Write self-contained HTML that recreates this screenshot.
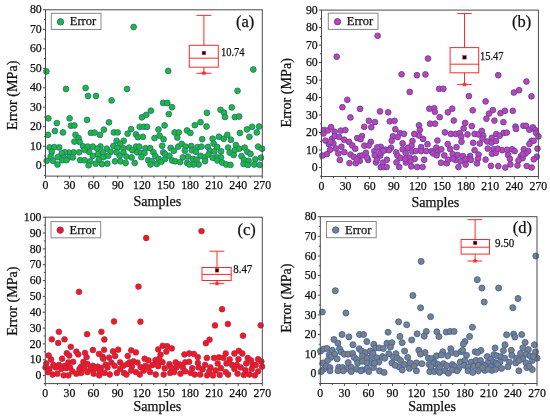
<!DOCTYPE html><html><head><meta charset="utf-8"><style>html,body{margin:0;padding:0;background:#fff;}svg{display:block;filter:blur(0.3px);}</style></head><body>
<svg width="550" height="418" viewBox="0 0 550 418">
<rect width="550" height="418" fill="#fff"/>
<style>text{stroke:#111;stroke-width:0.25px;}</style>
<g fill="#1cc01c" stroke="#2a60c0" stroke-width="0.8">
<circle cx="46.4" cy="71.4" r="2.9"/>
<circle cx="66.0" cy="89.0" r="2.9"/>
<circle cx="85.6" cy="88.0" r="2.9"/>
<circle cx="88.0" cy="96.0" r="2.9"/>
<circle cx="96.0" cy="96.0" r="2.9"/>
<circle cx="111.6" cy="100.4" r="2.9"/>
<circle cx="127.0" cy="89.0" r="2.9"/>
<circle cx="48.4" cy="118.3" r="2.9"/>
<circle cx="56.8" cy="123.1" r="2.9"/>
<circle cx="69.6" cy="118.3" r="2.9"/>
<circle cx="70.9" cy="125.7" r="2.9"/>
<circle cx="74.4" cy="125.5" r="2.9"/>
<circle cx="87.0" cy="119.9" r="2.9"/>
<circle cx="109.0" cy="122.3" r="2.9"/>
<circle cx="141.9" cy="117.3" r="2.9"/>
<circle cx="146.3" cy="114.8" r="2.9"/>
<circle cx="150.9" cy="110.7" r="2.9"/>
<circle cx="139.7" cy="126.8" r="2.9"/>
<circle cx="143.7" cy="126.8" r="2.9"/>
<circle cx="147.0" cy="126.8" r="2.9"/>
<circle cx="103.9" cy="129.6" r="2.9"/>
<circle cx="131.1" cy="129.1" r="2.9"/>
<circle cx="133.6" cy="27.0" r="2.9"/>
<circle cx="168.2" cy="70.9" r="2.9"/>
<circle cx="253.3" cy="69.5" r="2.9"/>
<circle cx="237.5" cy="90.8" r="2.9"/>
<circle cx="163.1" cy="103.0" r="2.9"/>
<circle cx="167.3" cy="103.0" r="2.9"/>
<circle cx="172.0" cy="107.2" r="2.9"/>
<circle cx="168.8" cy="114.1" r="2.9"/>
<circle cx="206.9" cy="112.8" r="2.9"/>
<circle cx="220.5" cy="109.8" r="2.9"/>
<circle cx="224.1" cy="112.7" r="2.9"/>
<circle cx="225.0" cy="117.0" r="2.9"/>
<circle cx="231.8" cy="107.4" r="2.9"/>
<circle cx="234.8" cy="117.1" r="2.9"/>
<circle cx="239.1" cy="116.5" r="2.9"/>
<circle cx="158.5" cy="129.5" r="2.9"/>
<circle cx="164.6" cy="125.4" r="2.9"/>
<circle cx="194.8" cy="125.2" r="2.9"/>
<circle cx="200.5" cy="122.2" r="2.9"/>
<circle cx="206.5" cy="126.5" r="2.9"/>
<circle cx="187.0" cy="130.5" r="2.9"/>
<circle cx="246.9" cy="129.4" r="2.9"/>
<circle cx="252.1" cy="126.8" r="2.9"/>
<circle cx="259.1" cy="126.5" r="2.9"/>
<circle cx="48.0" cy="134.8" r="2.9"/>
<circle cx="54.9" cy="131.0" r="2.9"/>
<circle cx="63.0" cy="132.4" r="2.9"/>
<circle cx="75.5" cy="134.8" r="2.9"/>
<circle cx="90.9" cy="132.9" r="2.9"/>
<circle cx="94.6" cy="132.6" r="2.9"/>
<circle cx="100.0" cy="134.9" r="2.9"/>
<circle cx="78.6" cy="138.1" r="2.9"/>
<circle cx="74.4" cy="141.6" r="2.9"/>
<circle cx="79.6" cy="141.9" r="2.9"/>
<circle cx="83.1" cy="146.3" r="2.9"/>
<circle cx="49.6" cy="147.4" r="2.9"/>
<circle cx="54.3" cy="147.1" r="2.9"/>
<circle cx="59.1" cy="147.4" r="2.9"/>
<circle cx="51.8" cy="151.8" r="2.9"/>
<circle cx="87.8" cy="146.6" r="2.9"/>
<circle cx="92.8" cy="146.6" r="2.9"/>
<circle cx="100.4" cy="146.5" r="2.9"/>
<circle cx="106.8" cy="148.7" r="2.9"/>
<circle cx="97.3" cy="148.7" r="2.9"/>
<circle cx="89.1" cy="151.8" r="2.9"/>
<circle cx="79.1" cy="152.3" r="2.9"/>
<circle cx="73.6" cy="152.3" r="2.9"/>
<circle cx="68.8" cy="152.6" r="2.9"/>
<circle cx="64.9" cy="152.3" r="2.9"/>
<circle cx="61.7" cy="153.4" r="2.9"/>
<circle cx="84.6" cy="149.8" r="2.9"/>
<circle cx="50.7" cy="156.6" r="2.9"/>
<circle cx="57.8" cy="157.1" r="2.9"/>
<circle cx="63.8" cy="157.4" r="2.9"/>
<circle cx="70.1" cy="157.1" r="2.9"/>
<circle cx="92.8" cy="155.8" r="2.9"/>
<circle cx="98.1" cy="154.2" r="2.9"/>
<circle cx="103.1" cy="152.3" r="2.9"/>
<circle cx="103.4" cy="157.2" r="2.9"/>
<circle cx="98.8" cy="159.7" r="2.9"/>
<circle cx="46.7" cy="160.8" r="2.9"/>
<circle cx="53.1" cy="160.8" r="2.9"/>
<circle cx="57.5" cy="164.5" r="2.9"/>
<circle cx="62.2" cy="160.2" r="2.9"/>
<circle cx="66.5" cy="160.2" r="2.9"/>
<circle cx="72.8" cy="157.4" r="2.9"/>
<circle cx="80.2" cy="160.2" r="2.9"/>
<circle cx="84.6" cy="160.2" r="2.9"/>
<circle cx="90.2" cy="161.3" r="2.9"/>
<circle cx="95.7" cy="163.7" r="2.9"/>
<circle cx="102.0" cy="164.1" r="2.9"/>
<circle cx="88.6" cy="165.3" r="2.9"/>
<circle cx="107.3" cy="163.7" r="2.9"/>
<circle cx="113.9" cy="132.4" r="2.9"/>
<circle cx="117.7" cy="132.4" r="2.9"/>
<circle cx="127.6" cy="133.7" r="2.9"/>
<circle cx="136.0" cy="134.5" r="2.9"/>
<circle cx="137.9" cy="137.2" r="2.9"/>
<circle cx="142.9" cy="136.8" r="2.9"/>
<circle cx="154.5" cy="138.1" r="2.9"/>
<circle cx="159.6" cy="135.7" r="2.9"/>
<circle cx="163.6" cy="139.2" r="2.9"/>
<circle cx="116.6" cy="140.8" r="2.9"/>
<circle cx="123.7" cy="140.8" r="2.9"/>
<circle cx="113.4" cy="146.0" r="2.9"/>
<circle cx="120.2" cy="143.9" r="2.9"/>
<circle cx="117.4" cy="147.9" r="2.9"/>
<circle cx="123.4" cy="148.2" r="2.9"/>
<circle cx="129.2" cy="147.6" r="2.9"/>
<circle cx="136.0" cy="146.6" r="2.9"/>
<circle cx="139.2" cy="146.6" r="2.9"/>
<circle cx="132.4" cy="150.3" r="2.9"/>
<circle cx="145.5" cy="148.2" r="2.9"/>
<circle cx="150.2" cy="148.2" r="2.9"/>
<circle cx="153.4" cy="152.3" r="2.9"/>
<circle cx="162.2" cy="145.8" r="2.9"/>
<circle cx="110.7" cy="151.8" r="2.9"/>
<circle cx="116.6" cy="152.3" r="2.9"/>
<circle cx="123.4" cy="152.3" r="2.9"/>
<circle cx="137.1" cy="152.3" r="2.9"/>
<circle cx="141.1" cy="152.9" r="2.9"/>
<circle cx="144.5" cy="152.9" r="2.9"/>
<circle cx="163.2" cy="152.3" r="2.9"/>
<circle cx="108.2" cy="155.8" r="2.9"/>
<circle cx="119.7" cy="155.8" r="2.9"/>
<circle cx="126.5" cy="156.6" r="2.9"/>
<circle cx="131.6" cy="157.4" r="2.9"/>
<circle cx="141.4" cy="157.1" r="2.9"/>
<circle cx="155.3" cy="156.1" r="2.9"/>
<circle cx="148.2" cy="160.2" r="2.9"/>
<circle cx="151.8" cy="161.3" r="2.9"/>
<circle cx="158.7" cy="158.9" r="2.9"/>
<circle cx="115.0" cy="161.3" r="2.9"/>
<circle cx="120.5" cy="161.3" r="2.9"/>
<circle cx="125.6" cy="162.9" r="2.9"/>
<circle cx="134.7" cy="162.9" r="2.9"/>
<circle cx="150.5" cy="164.5" r="2.9"/>
<circle cx="156.8" cy="164.0" r="2.9"/>
<circle cx="161.4" cy="161.7" r="2.9"/>
<circle cx="165.2" cy="158.9" r="2.9"/>
<circle cx="174.6" cy="132.4" r="2.9"/>
<circle cx="178.8" cy="132.4" r="2.9"/>
<circle cx="190.4" cy="132.9" r="2.9"/>
<circle cx="177.3" cy="137.6" r="2.9"/>
<circle cx="202.2" cy="139.2" r="2.9"/>
<circle cx="212.6" cy="138.7" r="2.9"/>
<circle cx="218.9" cy="136.7" r="2.9"/>
<circle cx="223.7" cy="138.8" r="2.9"/>
<circle cx="170.6" cy="147.9" r="2.9"/>
<circle cx="173.8" cy="150.7" r="2.9"/>
<circle cx="178.2" cy="146.6" r="2.9"/>
<circle cx="181.7" cy="143.9" r="2.9"/>
<circle cx="185.6" cy="146.6" r="2.9"/>
<circle cx="191.2" cy="146.0" r="2.9"/>
<circle cx="184.8" cy="150.7" r="2.9"/>
<circle cx="191.9" cy="150.3" r="2.9"/>
<circle cx="197.5" cy="147.1" r="2.9"/>
<circle cx="201.4" cy="146.6" r="2.9"/>
<circle cx="195.9" cy="151.8" r="2.9"/>
<circle cx="207.9" cy="146.9" r="2.9"/>
<circle cx="213.6" cy="143.6" r="2.9"/>
<circle cx="217.1" cy="146.9" r="2.9"/>
<circle cx="210.0" cy="151.1" r="2.9"/>
<circle cx="214.4" cy="151.4" r="2.9"/>
<circle cx="221.1" cy="151.4" r="2.9"/>
<circle cx="165.1" cy="154.2" r="2.9"/>
<circle cx="169.4" cy="155.8" r="2.9"/>
<circle cx="172.2" cy="160.5" r="2.9"/>
<circle cx="175.4" cy="161.3" r="2.9"/>
<circle cx="180.1" cy="162.1" r="2.9"/>
<circle cx="182.9" cy="157.4" r="2.9"/>
<circle cx="188.0" cy="156.6" r="2.9"/>
<circle cx="187.2" cy="162.9" r="2.9"/>
<circle cx="193.1" cy="158.9" r="2.9"/>
<circle cx="196.7" cy="159.7" r="2.9"/>
<circle cx="200.6" cy="155.8" r="2.9"/>
<circle cx="205.1" cy="157.4" r="2.9"/>
<circle cx="205.1" cy="161.1" r="2.9"/>
<circle cx="198.7" cy="164.5" r="2.9"/>
<circle cx="193.5" cy="164.5" r="2.9"/>
<circle cx="189.3" cy="164.5" r="2.9"/>
<circle cx="208.5" cy="154.5" r="2.9"/>
<circle cx="212.9" cy="157.8" r="2.9"/>
<circle cx="217.2" cy="157.4" r="2.9"/>
<circle cx="220.9" cy="157.4" r="2.9"/>
<circle cx="217.4" cy="160.4" r="2.9"/>
<circle cx="222.1" cy="162.5" r="2.9"/>
<circle cx="239.9" cy="132.9" r="2.9"/>
<circle cx="256.8" cy="132.4" r="2.9"/>
<circle cx="249.4" cy="136.8" r="2.9"/>
<circle cx="227.3" cy="134.9" r="2.9"/>
<circle cx="230.9" cy="139.7" r="2.9"/>
<circle cx="228.1" cy="147.6" r="2.9"/>
<circle cx="236.0" cy="145.1" r="2.9"/>
<circle cx="234.7" cy="150.3" r="2.9"/>
<circle cx="229.7" cy="152.6" r="2.9"/>
<circle cx="233.6" cy="155.0" r="2.9"/>
<circle cx="239.2" cy="148.7" r="2.9"/>
<circle cx="244.7" cy="147.6" r="2.9"/>
<circle cx="247.4" cy="151.8" r="2.9"/>
<circle cx="250.5" cy="153.9" r="2.9"/>
<circle cx="258.1" cy="146.6" r="2.9"/>
<circle cx="262.1" cy="148.7" r="2.9"/>
<circle cx="226.2" cy="164.5" r="2.9"/>
<circle cx="230.5" cy="164.9" r="2.9"/>
<circle cx="241.5" cy="156.1" r="2.9"/>
<circle cx="243.9" cy="159.7" r="2.9"/>
<circle cx="248.6" cy="160.8" r="2.9"/>
<circle cx="255.3" cy="159.3" r="2.9"/>
<circle cx="260.9" cy="157.7" r="2.9"/>
<circle cx="243.6" cy="164.0" r="2.9"/>
<circle cx="247.8" cy="164.9" r="2.9"/>
<circle cx="254.2" cy="164.5" r="2.9"/>
<circle cx="259.7" cy="164.9" r="2.9"/>
</g>
<rect x="45.5" y="9.8" width="216.8" height="166.3" fill="none" stroke="#4a4a4a" stroke-width="1"/>
<path d="M45.5 176.1v2.5M57.5 176.1v1.5M69.6 176.1v2.5M81.6 176.1v1.5M93.7 176.1v2.5M105.7 176.1v1.5M117.8 176.1v2.5M129.8 176.1v1.5M141.9 176.1v2.5M153.9 176.1v1.5M165.9 176.1v2.5M178.0 176.1v1.5M190.0 176.1v2.5M202.1 176.1v1.5M214.1 176.1v2.5M226.2 176.1v1.5M238.2 176.1v2.5M250.3 176.1v1.5M262.3 176.1v2.5M45.5 175.4h-1.5M45.5 165.7h-2.5M45.5 156.0h-1.5M45.5 146.2h-2.5M45.5 136.5h-1.5M45.5 126.7h-2.5M45.5 117.0h-1.5M45.5 107.2h-2.5M45.5 97.5h-1.5M45.5 87.8h-2.5M45.5 78.0h-1.5M45.5 68.3h-2.5M45.5 58.5h-1.5M45.5 48.8h-2.5M45.5 39.0h-1.5M45.5 29.3h-2.5M45.5 19.5h-1.5M45.5 9.8h-2.5" stroke="#4a4a4a" stroke-width="1" fill="none"/>
<g font-family="Liberation Serif" font-size="11.8" fill="#111" text-anchor="middle">
<text x="45.5" y="189.2">0</text>
<text x="69.6" y="189.2">30</text>
<text x="93.7" y="189.2">60</text>
<text x="117.8" y="189.2">90</text>
<text x="141.9" y="189.2">120</text>
<text x="165.9" y="189.2">150</text>
<text x="190.0" y="189.2">180</text>
<text x="214.1" y="189.2">210</text>
<text x="238.2" y="189.2">240</text>
<text x="262.3" y="189.2">270</text>
</g><g font-family="Liberation Serif" font-size="11.8" fill="#111" text-anchor="end">
<text x="41.7" y="169.3">0</text>
<text x="41.7" y="149.8">10</text>
<text x="41.7" y="130.3">20</text>
<text x="41.7" y="110.8">30</text>
<text x="41.7" y="91.3">40</text>
<text x="41.7" y="71.9">50</text>
<text x="41.7" y="52.4">60</text>
<text x="41.7" y="32.9">70</text>
<text x="41.7" y="13.4">80</text>
</g>
<text x="157.4" y="206.4" font-family="Liberation Serif" font-size="14.1" fill="#111" text-anchor="middle">Samples</text>
<text transform="translate(17.4 95.3) rotate(-90)" x="0" y="0" font-family="Liberation Serif" font-size="14.1" fill="#111" text-anchor="middle">Error (MPa)</text>
<rect x="51.3" y="13.3" width="49.7" height="16.2" fill="#fff" stroke="#888" stroke-width="1"/>
<circle cx="60.5" cy="21.8" r="3.2" fill="#1cc01c" stroke="#2a60c0" stroke-width="0.9"/>
<text x="69.8" y="25.3" font-family="Liberation Serif" font-size="12.5" fill="#111">Error</text>
<g stroke="#ff2a2a" stroke-width="1" fill="none">
<rect x="189.3" y="45.3" width="29.0" height="21.9"/>
<path d="M189.3 58.2H218.3M203.9 15.4V45.3M203.9 67.2V73.3M196.4 15.4H211.2M196.4 73.3H211.2"/>
<polygon points="203.90,70.30 204.72,71.97 206.56,72.23 205.23,73.53 205.55,75.37 203.90,74.50 202.25,75.37 202.57,73.53 201.24,72.23 203.08,71.97" fill="#ff2a2a" stroke="none"/>
</g>
<rect x="202.1" y="51.2" width="3.6" height="3.6" fill="#000" stroke="#ff2a2a" stroke-width="0.5"/>
<text x="221.0" y="55.7" font-family="Liberation Serif" font-size="12" fill="#111" textLength="23.6" lengthAdjust="spacingAndGlyphs">10.74</text>
<text x="236.0" y="26.9" font-family="Liberation Serif" font-size="16.5" fill="#111">(a)</text>
<g fill="#cc40a0" stroke="#4a48c8" stroke-width="0.9">
<circle cx="377.6" cy="35.8" r="2.85"/>
<circle cx="336.7" cy="56.7" r="2.85"/>
<circle cx="428.0" cy="58.5" r="2.85"/>
<circle cx="401.6" cy="74.3" r="2.85"/>
<circle cx="416.9" cy="75.2" r="2.85"/>
<circle cx="425.4" cy="74.4" r="2.85"/>
<circle cx="409.7" cy="91.9" r="2.85"/>
<circle cx="347.3" cy="99.8" r="2.85"/>
<circle cx="342.4" cy="107.2" r="2.85"/>
<circle cx="360.1" cy="108.8" r="2.85"/>
<circle cx="439.2" cy="88.8" r="2.85"/>
<circle cx="443.4" cy="88.8" r="2.85"/>
<circle cx="498.2" cy="75.2" r="2.85"/>
<circle cx="526.4" cy="81.5" r="2.85"/>
<circle cx="513.9" cy="92.5" r="2.85"/>
<circle cx="519.1" cy="90.2" r="2.85"/>
<circle cx="531.5" cy="96.3" r="2.85"/>
<circle cx="468.9" cy="96.1" r="2.85"/>
<circle cx="485.6" cy="101.4" r="2.85"/>
<circle cx="380.0" cy="111.4" r="2.85"/>
<circle cx="350.4" cy="117.4" r="2.85"/>
<circle cx="368.9" cy="120.8" r="2.85"/>
<circle cx="375.0" cy="122.1" r="2.85"/>
<circle cx="364.2" cy="126.8" r="2.85"/>
<circle cx="371.3" cy="127.2" r="2.85"/>
<circle cx="323.9" cy="130.0" r="2.85"/>
<circle cx="327.9" cy="130.4" r="2.85"/>
<circle cx="331.0" cy="127.2" r="2.85"/>
<circle cx="334.6" cy="131.7" r="2.85"/>
<circle cx="340.8" cy="130.6" r="2.85"/>
<circle cx="345.3" cy="130.1" r="2.85"/>
<circle cx="323.5" cy="133.5" r="2.85"/>
<circle cx="325.5" cy="140.6" r="2.85"/>
<circle cx="332.0" cy="138.8" r="2.85"/>
<circle cx="334.8" cy="136.0" r="2.85"/>
<circle cx="339.1" cy="136.9" r="2.85"/>
<circle cx="344.2" cy="139.7" r="2.85"/>
<circle cx="349.1" cy="141.9" r="2.85"/>
<circle cx="352.2" cy="145.4" r="2.85"/>
<circle cx="355.2" cy="148.7" r="2.85"/>
<circle cx="357.2" cy="138.1" r="2.85"/>
<circle cx="362.0" cy="136.0" r="2.85"/>
<circle cx="360.6" cy="139.2" r="2.85"/>
<circle cx="364.4" cy="145.6" r="2.85"/>
<circle cx="370.8" cy="141.9" r="2.85"/>
<circle cx="368.8" cy="145.4" r="2.85"/>
<circle cx="329.0" cy="144.3" r="2.85"/>
<circle cx="333.4" cy="143.4" r="2.85"/>
<circle cx="335.8" cy="148.4" r="2.85"/>
<circle cx="341.4" cy="146.7" r="2.85"/>
<circle cx="330.0" cy="149.8" r="2.85"/>
<circle cx="322.3" cy="155.5" r="2.85"/>
<circle cx="327.0" cy="154.1" r="2.85"/>
<circle cx="338.3" cy="153.5" r="2.85"/>
<circle cx="344.3" cy="152.2" r="2.85"/>
<circle cx="339.8" cy="160.0" r="2.85"/>
<circle cx="350.4" cy="154.5" r="2.85"/>
<circle cx="353.7" cy="156.9" r="2.85"/>
<circle cx="359.8" cy="155.9" r="2.85"/>
<circle cx="362.6" cy="155.3" r="2.85"/>
<circle cx="365.9" cy="152.8" r="2.85"/>
<circle cx="374.4" cy="151.2" r="2.85"/>
<circle cx="374.8" cy="155.3" r="2.85"/>
<circle cx="380.7" cy="146.8" r="2.85"/>
<circle cx="380.3" cy="155.6" r="2.85"/>
<circle cx="380.7" cy="152.9" r="2.85"/>
<circle cx="349.5" cy="163.1" r="2.85"/>
<circle cx="355.8" cy="163.2" r="2.85"/>
<circle cx="359.7" cy="161.0" r="2.85"/>
<circle cx="368.2" cy="160.0" r="2.85"/>
<circle cx="376.0" cy="162.4" r="2.85"/>
<circle cx="330.4" cy="142.0" r="2.85"/>
<circle cx="356.8" cy="159.4" r="2.85"/>
<circle cx="367.0" cy="157.6" r="2.85"/>
<circle cx="376.9" cy="159.4" r="2.85"/>
<circle cx="380.8" cy="167.2" r="2.85"/>
<circle cx="388.2" cy="112.3" r="2.85"/>
<circle cx="429.3" cy="108.7" r="2.85"/>
<circle cx="434.2" cy="108.3" r="2.85"/>
<circle cx="434.8" cy="111.8" r="2.85"/>
<circle cx="439.7" cy="117.2" r="2.85"/>
<circle cx="389.8" cy="121.3" r="2.85"/>
<circle cx="394.5" cy="120.8" r="2.85"/>
<circle cx="395.3" cy="129.2" r="2.85"/>
<circle cx="419.0" cy="125.3" r="2.85"/>
<circle cx="419.8" cy="130.0" r="2.85"/>
<circle cx="430.1" cy="123.7" r="2.85"/>
<circle cx="435.0" cy="123.7" r="2.85"/>
<circle cx="400.1" cy="133.2" r="2.85"/>
<circle cx="404.0" cy="133.9" r="2.85"/>
<circle cx="392.9" cy="136.3" r="2.85"/>
<circle cx="397.7" cy="137.1" r="2.85"/>
<circle cx="391.7" cy="140.7" r="2.85"/>
<circle cx="414.3" cy="133.9" r="2.85"/>
<circle cx="419.0" cy="135.5" r="2.85"/>
<circle cx="423.1" cy="138.9" r="2.85"/>
<circle cx="412.5" cy="141.0" r="2.85"/>
<circle cx="402.6" cy="143.3" r="2.85"/>
<circle cx="411.5" cy="145.4" r="2.85"/>
<circle cx="427.5" cy="144.2" r="2.85"/>
<circle cx="437.4" cy="140.5" r="2.85"/>
<circle cx="377.2" cy="147.4" r="2.85"/>
<circle cx="385.3" cy="149.7" r="2.85"/>
<circle cx="391.0" cy="147.7" r="2.85"/>
<circle cx="383.5" cy="150.8" r="2.85"/>
<circle cx="396.2" cy="152.4" r="2.85"/>
<circle cx="402.6" cy="149.3" r="2.85"/>
<circle cx="407.7" cy="147.9" r="2.85"/>
<circle cx="412.1" cy="151.4" r="2.85"/>
<circle cx="415.9" cy="151.0" r="2.85"/>
<circle cx="421.1" cy="147.1" r="2.85"/>
<circle cx="421.1" cy="151.1" r="2.85"/>
<circle cx="426.2" cy="151.1" r="2.85"/>
<circle cx="431.4" cy="151.2" r="2.85"/>
<circle cx="436.3" cy="147.6" r="2.85"/>
<circle cx="437.7" cy="151.5" r="2.85"/>
<circle cx="397.5" cy="155.8" r="2.85"/>
<circle cx="405.7" cy="153.1" r="2.85"/>
<circle cx="400.6" cy="158.0" r="2.85"/>
<circle cx="409.5" cy="157.6" r="2.85"/>
<circle cx="414.8" cy="158.7" r="2.85"/>
<circle cx="424.2" cy="159.7" r="2.85"/>
<circle cx="433.1" cy="153.4" r="2.85"/>
<circle cx="386.9" cy="159.7" r="2.85"/>
<circle cx="382.8" cy="162.7" r="2.85"/>
<circle cx="396.5" cy="162.3" r="2.85"/>
<circle cx="405.9" cy="162.5" r="2.85"/>
<circle cx="410.6" cy="161.4" r="2.85"/>
<circle cx="389.0" cy="150.2" r="2.85"/>
<circle cx="383.6" cy="167.0" r="2.85"/>
<circle cx="386.6" cy="167.0" r="2.85"/>
<circle cx="405.2" cy="159.2" r="2.85"/>
<circle cx="399.2" cy="167.0" r="2.85"/>
<circle cx="411.2" cy="166.4" r="2.85"/>
<circle cx="417.2" cy="167.0" r="2.85"/>
<circle cx="422.6" cy="167.0" r="2.85"/>
<circle cx="441.3" cy="149.3" r="2.85"/>
<circle cx="441.0" cy="162.7" r="2.85"/>
<circle cx="447.8" cy="112.3" r="2.85"/>
<circle cx="452.2" cy="108.7" r="2.85"/>
<circle cx="472.7" cy="110.3" r="2.85"/>
<circle cx="489.0" cy="113.5" r="2.85"/>
<circle cx="492.9" cy="110.1" r="2.85"/>
<circle cx="486.4" cy="118.7" r="2.85"/>
<circle cx="494.4" cy="120.6" r="2.85"/>
<circle cx="453.8" cy="120.5" r="2.85"/>
<circle cx="465.2" cy="122.9" r="2.85"/>
<circle cx="463.6" cy="128.4" r="2.85"/>
<circle cx="471.8" cy="126.1" r="2.85"/>
<circle cx="444.9" cy="132.4" r="2.85"/>
<circle cx="450.9" cy="133.9" r="2.85"/>
<circle cx="455.7" cy="133.9" r="2.85"/>
<circle cx="459.6" cy="133.2" r="2.85"/>
<circle cx="461.2" cy="136.6" r="2.85"/>
<circle cx="467.5" cy="134.4" r="2.85"/>
<circle cx="474.6" cy="133.9" r="2.85"/>
<circle cx="478.6" cy="134.4" r="2.85"/>
<circle cx="481.7" cy="130.9" r="2.85"/>
<circle cx="483.2" cy="135.6" r="2.85"/>
<circle cx="482.5" cy="138.7" r="2.85"/>
<circle cx="487.2" cy="141.5" r="2.85"/>
<circle cx="491.9" cy="137.8" r="2.85"/>
<circle cx="496.3" cy="134.1" r="2.85"/>
<circle cx="447.7" cy="144.0" r="2.85"/>
<circle cx="461.5" cy="141.8" r="2.85"/>
<circle cx="473.1" cy="142.8" r="2.85"/>
<circle cx="479.8" cy="143.5" r="2.85"/>
<circle cx="491.5" cy="142.7" r="2.85"/>
<circle cx="496.0" cy="141.0" r="2.85"/>
<circle cx="450.1" cy="149.0" r="2.85"/>
<circle cx="456.5" cy="147.1" r="2.85"/>
<circle cx="474.6" cy="150.2" r="2.85"/>
<circle cx="487.7" cy="148.6" r="2.85"/>
<circle cx="493.6" cy="149.3" r="2.85"/>
<circle cx="444.3" cy="155.4" r="2.85"/>
<circle cx="452.7" cy="154.1" r="2.85"/>
<circle cx="457.6" cy="155.0" r="2.85"/>
<circle cx="462.8" cy="156.1" r="2.85"/>
<circle cx="470.1" cy="156.0" r="2.85"/>
<circle cx="478.6" cy="154.5" r="2.85"/>
<circle cx="492.0" cy="153.7" r="2.85"/>
<circle cx="495.9" cy="152.8" r="2.85"/>
<circle cx="436.7" cy="155.3" r="2.85"/>
<circle cx="446.8" cy="163.2" r="2.85"/>
<circle cx="455.7" cy="160.0" r="2.85"/>
<circle cx="460.7" cy="161.3" r="2.85"/>
<circle cx="468.3" cy="159.2" r="2.85"/>
<circle cx="478.0" cy="158.7" r="2.85"/>
<circle cx="485.6" cy="159.6" r="2.85"/>
<circle cx="453.0" cy="158.6" r="2.85"/>
<circle cx="448.2" cy="159.8" r="2.85"/>
<circle cx="458.4" cy="167.0" r="2.85"/>
<circle cx="465.6" cy="164.6" r="2.85"/>
<circle cx="465.6" cy="159.2" r="2.85"/>
<circle cx="471.0" cy="159.8" r="2.85"/>
<circle cx="477.0" cy="163.4" r="2.85"/>
<circle cx="490.9" cy="165.9" r="2.85"/>
<circle cx="498.3" cy="166.1" r="2.85"/>
<circle cx="500.5" cy="113.2" r="2.85"/>
<circle cx="504.9" cy="110.8" r="2.85"/>
<circle cx="512.8" cy="110.8" r="2.85"/>
<circle cx="503.4" cy="122.2" r="2.85"/>
<circle cx="515.5" cy="126.6" r="2.85"/>
<circle cx="516.0" cy="128.9" r="2.85"/>
<circle cx="523.4" cy="125.8" r="2.85"/>
<circle cx="526.1" cy="125.8" r="2.85"/>
<circle cx="529.3" cy="129.7" r="2.85"/>
<circle cx="532.9" cy="127.4" r="2.85"/>
<circle cx="535.3" cy="130.1" r="2.85"/>
<circle cx="536.1" cy="132.9" r="2.85"/>
<circle cx="538.4" cy="136.4" r="2.85"/>
<circle cx="499.7" cy="135.7" r="2.85"/>
<circle cx="503.7" cy="132.9" r="2.85"/>
<circle cx="506.8" cy="132.6" r="2.85"/>
<circle cx="531.6" cy="140.9" r="2.85"/>
<circle cx="533.7" cy="140.8" r="2.85"/>
<circle cx="529.5" cy="143.9" r="2.85"/>
<circle cx="537.5" cy="148.7" r="2.85"/>
<circle cx="502.2" cy="150.2" r="2.85"/>
<circle cx="507.0" cy="149.8" r="2.85"/>
<circle cx="512.1" cy="149.3" r="2.85"/>
<circle cx="514.6" cy="151.1" r="2.85"/>
<circle cx="523.8" cy="149.3" r="2.85"/>
<circle cx="528.2" cy="150.9" r="2.85"/>
<circle cx="508.1" cy="154.9" r="2.85"/>
<circle cx="520.8" cy="156.3" r="2.85"/>
<circle cx="525.6" cy="153.5" r="2.85"/>
<circle cx="536.8" cy="156.7" r="2.85"/>
<circle cx="509.9" cy="158.9" r="2.85"/>
<circle cx="522.6" cy="158.2" r="2.85"/>
<circle cx="497.6" cy="148.7" r="2.85"/>
<circle cx="510.4" cy="164.4" r="2.85"/>
<circle cx="505.3" cy="167.5" r="2.85"/>
<circle cx="517.5" cy="165.5" r="2.85"/>
<circle cx="518.5" cy="160.4" r="2.85"/>
<circle cx="522.6" cy="154.3" r="2.85"/>
<circle cx="533.8" cy="159.3" r="2.85"/>
<circle cx="526.7" cy="166.0" r="2.85"/>
<circle cx="531.7" cy="167.5" r="2.85"/>
</g>
<rect x="321.5" y="10.1" width="216.9" height="166.4" fill="none" stroke="#4a4a4a" stroke-width="1"/>
<path d="M321.5 176.5v2.5M333.6 176.5v1.5M345.6 176.5v2.5M357.6 176.5v1.5M369.7 176.5v2.5M381.8 176.5v1.5M393.8 176.5v2.5M405.9 176.5v1.5M417.9 176.5v2.5M429.9 176.5v1.5M442.0 176.5v2.5M454.0 176.5v1.5M466.1 176.5v2.5M478.1 176.5v1.5M490.2 176.5v2.5M502.2 176.5v1.5M514.3 176.5v2.5M526.3 176.5v1.5M538.4 176.5v2.5M321.5 176.2h-1.5M321.5 167.5h-2.5M321.5 158.8h-1.5M321.5 150.0h-2.5M321.5 141.3h-1.5M321.5 132.5h-2.5M321.5 123.8h-1.5M321.5 115.0h-2.5M321.5 106.3h-1.5M321.5 97.5h-2.5M321.5 88.8h-1.5M321.5 80.1h-2.5M321.5 71.3h-1.5M321.5 62.6h-2.5M321.5 53.8h-1.5M321.5 45.1h-2.5M321.5 36.3h-1.5M321.5 27.6h-2.5M321.5 18.8h-1.5M321.5 10.1h-2.5" stroke="#4a4a4a" stroke-width="1" fill="none"/>
<g font-family="Liberation Serif" font-size="11.8" fill="#111" text-anchor="middle">
<text x="321.5" y="189.5">0</text>
<text x="345.6" y="189.5">30</text>
<text x="369.7" y="189.5">60</text>
<text x="393.8" y="189.5">90</text>
<text x="417.9" y="189.5">120</text>
<text x="442.0" y="189.5">150</text>
<text x="466.1" y="189.5">180</text>
<text x="490.2" y="189.5">210</text>
<text x="514.3" y="189.5">240</text>
<text x="538.4" y="189.5">270</text>
</g><g font-family="Liberation Serif" font-size="11.8" fill="#111" text-anchor="end">
<text x="317.7" y="171.1">0</text>
<text x="317.7" y="153.6">10</text>
<text x="317.7" y="136.1">20</text>
<text x="317.7" y="118.6">30</text>
<text x="317.7" y="101.1">40</text>
<text x="317.7" y="83.7">50</text>
<text x="317.7" y="66.2">60</text>
<text x="317.7" y="48.7">70</text>
<text x="317.7" y="31.2">80</text>
<text x="317.7" y="13.7">90</text>
</g>
<text x="435.3" y="206.6" font-family="Liberation Serif" font-size="14.1" fill="#111" text-anchor="middle">Samples</text>
<text transform="translate(291.3 92.8) rotate(-90)" x="0" y="0" font-family="Liberation Serif" font-size="14.1" fill="#111" text-anchor="middle">Error (MPa)</text>
<rect x="328.3" y="13.2" width="49.7" height="16.2" fill="#fff" stroke="#888" stroke-width="1"/>
<circle cx="337.5" cy="21.7" r="3.2" fill="#cc40a0" stroke="#4a48c8" stroke-width="0.9"/>
<text x="346.8" y="25.2" font-family="Liberation Serif" font-size="12.5" fill="#111">Error</text>
<g stroke="#ff2a2a" stroke-width="1" fill="none">
<rect x="450.1" y="47.6" width="28.6" height="25.2"/>
<path d="M450.1 64.2H478.7M464.5 13.6V47.6M464.5 72.8V84.6M457.2 13.6H471.8M457.2 84.6H471.8"/>
<polygon points="464.50,81.60 465.32,83.27 467.16,83.53 465.83,84.83 466.15,86.67 464.50,85.80 462.85,86.67 463.17,84.83 461.84,83.53 463.68,83.27" fill="#ff2a2a" stroke="none"/>
</g>
<rect x="462.7" y="55.5" width="3.6" height="3.6" fill="#000" stroke="#ff2a2a" stroke-width="0.5"/>
<text x="480.0" y="59.8" font-family="Liberation Serif" font-size="12" fill="#111" textLength="23.6" lengthAdjust="spacingAndGlyphs">15.47</text>
<text x="512.0" y="27.4" font-family="Liberation Serif" font-size="16.5" fill="#111">(b)</text>
<g fill="#ff1515" stroke="#703878" stroke-width="0.6">
<circle cx="146.2" cy="238.0" r="2.9"/>
<circle cx="201.5" cy="231.1" r="2.9"/>
<circle cx="79.0" cy="291.8" r="2.9"/>
<circle cx="138.5" cy="286.6" r="2.9"/>
<circle cx="114.0" cy="321.4" r="2.9"/>
<circle cx="140.4" cy="321.7" r="2.9"/>
<circle cx="222.1" cy="309.2" r="2.9"/>
<circle cx="215.0" cy="325.4" r="2.9"/>
<circle cx="227.9" cy="324.0" r="2.9"/>
<circle cx="260.7" cy="325.3" r="2.9"/>
<circle cx="243.0" cy="335.7" r="2.9"/>
<circle cx="209.5" cy="339.7" r="2.9"/>
<circle cx="205.9" cy="343.2" r="2.9"/>
<circle cx="58.9" cy="331.8" r="2.9"/>
<circle cx="87.1" cy="334.2" r="2.9"/>
<circle cx="101.4" cy="331.8" r="2.9"/>
<circle cx="51.8" cy="339.3" r="2.9"/>
<circle cx="58.2" cy="342.9" r="2.9"/>
<circle cx="64.5" cy="339.3" r="2.9"/>
<circle cx="104.3" cy="339.5" r="2.9"/>
<circle cx="70.8" cy="346.8" r="2.9"/>
<circle cx="92.9" cy="350.0" r="2.9"/>
<circle cx="48.7" cy="355.5" r="2.9"/>
<circle cx="66.8" cy="353.2" r="2.9"/>
<circle cx="69.2" cy="355.5" r="2.9"/>
<circle cx="76.3" cy="351.6" r="2.9"/>
<circle cx="78.2" cy="354.4" r="2.9"/>
<circle cx="85.0" cy="352.8" r="2.9"/>
<circle cx="86.6" cy="357.1" r="2.9"/>
<circle cx="99.0" cy="353.9" r="2.9"/>
<circle cx="102.6" cy="356.7" r="2.9"/>
<circle cx="104.1" cy="349.8" r="2.9"/>
<circle cx="51.1" cy="359.5" r="2.9"/>
<circle cx="62.1" cy="358.7" r="2.9"/>
<circle cx="73.2" cy="361.8" r="2.9"/>
<circle cx="83.4" cy="361.8" r="2.9"/>
<circle cx="103.2" cy="358.7" r="2.9"/>
<circle cx="46.3" cy="363.4" r="2.9"/>
<circle cx="53.4" cy="365.0" r="2.9"/>
<circle cx="58.9" cy="365.0" r="2.9"/>
<circle cx="64.5" cy="365.8" r="2.9"/>
<circle cx="68.4" cy="362.3" r="2.9"/>
<circle cx="81.1" cy="366.6" r="2.9"/>
<circle cx="87.4" cy="363.9" r="2.9"/>
<circle cx="92.9" cy="365.8" r="2.9"/>
<circle cx="97.6" cy="366.6" r="2.9"/>
<circle cx="45.5" cy="367.4" r="2.9"/>
<circle cx="49.5" cy="368.9" r="2.9"/>
<circle cx="55.8" cy="367.4" r="2.9"/>
<circle cx="61.3" cy="368.9" r="2.9"/>
<circle cx="66.1" cy="368.2" r="2.9"/>
<circle cx="79.5" cy="368.9" r="2.9"/>
<circle cx="84.2" cy="368.2" r="2.9"/>
<circle cx="90.5" cy="368.9" r="2.9"/>
<circle cx="95.3" cy="368.2" r="2.9"/>
<circle cx="101.0" cy="367.8" r="2.9"/>
<circle cx="105.7" cy="364.6" r="2.9"/>
<circle cx="47.9" cy="372.1" r="2.9"/>
<circle cx="52.6" cy="374.5" r="2.9"/>
<circle cx="57.4" cy="373.7" r="2.9"/>
<circle cx="63.7" cy="375.3" r="2.9"/>
<circle cx="68.4" cy="375.3" r="2.9"/>
<circle cx="72.4" cy="371.3" r="2.9"/>
<circle cx="76.3" cy="373.7" r="2.9"/>
<circle cx="81.1" cy="372.9" r="2.9"/>
<circle cx="87.4" cy="372.1" r="2.9"/>
<circle cx="93.7" cy="373.7" r="2.9"/>
<circle cx="99.2" cy="375.3" r="2.9"/>
<circle cx="104.5" cy="372.9" r="2.9"/>
<circle cx="70.0" cy="367.4" r="2.9"/>
<circle cx="162.7" cy="345.8" r="2.9"/>
<circle cx="113.0" cy="351.3" r="2.9"/>
<circle cx="118.2" cy="349.7" r="2.9"/>
<circle cx="131.2" cy="350.3" r="2.9"/>
<circle cx="135.9" cy="352.4" r="2.9"/>
<circle cx="158.2" cy="349.4" r="2.9"/>
<circle cx="109.1" cy="357.6" r="2.9"/>
<circle cx="115.1" cy="356.0" r="2.9"/>
<circle cx="127.7" cy="356.0" r="2.9"/>
<circle cx="144.6" cy="358.7" r="2.9"/>
<circle cx="148.5" cy="360.3" r="2.9"/>
<circle cx="155.4" cy="360.1" r="2.9"/>
<circle cx="160.6" cy="354.7" r="2.9"/>
<circle cx="162.5" cy="362.2" r="2.9"/>
<circle cx="111.4" cy="362.6" r="2.9"/>
<circle cx="120.1" cy="362.3" r="2.9"/>
<circle cx="129.6" cy="362.3" r="2.9"/>
<circle cx="133.5" cy="361.4" r="2.9"/>
<circle cx="137.5" cy="362.6" r="2.9"/>
<circle cx="157.2" cy="362.3" r="2.9"/>
<circle cx="107.5" cy="367.4" r="2.9"/>
<circle cx="114.6" cy="365.8" r="2.9"/>
<circle cx="123.3" cy="365.8" r="2.9"/>
<circle cx="127.2" cy="364.2" r="2.9"/>
<circle cx="131.9" cy="366.6" r="2.9"/>
<circle cx="140.6" cy="367.1" r="2.9"/>
<circle cx="145.4" cy="365.8" r="2.9"/>
<circle cx="152.5" cy="365.0" r="2.9"/>
<circle cx="158.2" cy="366.2" r="2.9"/>
<circle cx="99.6" cy="370.5" r="2.9"/>
<circle cx="109.8" cy="374.5" r="2.9"/>
<circle cx="116.9" cy="372.9" r="2.9"/>
<circle cx="124.1" cy="372.9" r="2.9"/>
<circle cx="126.4" cy="374.5" r="2.9"/>
<circle cx="131.2" cy="370.5" r="2.9"/>
<circle cx="135.9" cy="372.1" r="2.9"/>
<circle cx="139.8" cy="374.5" r="2.9"/>
<circle cx="143.8" cy="370.5" r="2.9"/>
<circle cx="150.1" cy="372.1" r="2.9"/>
<circle cx="155.8" cy="374.5" r="2.9"/>
<circle cx="163.7" cy="374.5" r="2.9"/>
<circle cx="120.1" cy="368.9" r="2.9"/>
<circle cx="148.5" cy="367.4" r="2.9"/>
<circle cx="167.1" cy="346.1" r="2.9"/>
<circle cx="171.8" cy="348.4" r="2.9"/>
<circle cx="166.3" cy="351.6" r="2.9"/>
<circle cx="184.4" cy="354.4" r="2.9"/>
<circle cx="189.2" cy="353.5" r="2.9"/>
<circle cx="193.9" cy="353.9" r="2.9"/>
<circle cx="197.8" cy="357.1" r="2.9"/>
<circle cx="206.9" cy="357.9" r="2.9"/>
<circle cx="214.0" cy="357.9" r="2.9"/>
<circle cx="218.9" cy="357.3" r="2.9"/>
<circle cx="159.2" cy="358.7" r="2.9"/>
<circle cx="169.4" cy="364.2" r="2.9"/>
<circle cx="175.7" cy="362.3" r="2.9"/>
<circle cx="179.7" cy="364.5" r="2.9"/>
<circle cx="185.2" cy="362.3" r="2.9"/>
<circle cx="189.2" cy="361.8" r="2.9"/>
<circle cx="197.8" cy="362.9" r="2.9"/>
<circle cx="205.1" cy="364.8" r="2.9"/>
<circle cx="217.7" cy="363.4" r="2.9"/>
<circle cx="164.7" cy="368.2" r="2.9"/>
<circle cx="171.0" cy="367.4" r="2.9"/>
<circle cx="176.5" cy="367.4" r="2.9"/>
<circle cx="182.8" cy="367.4" r="2.9"/>
<circle cx="192.3" cy="368.2" r="2.9"/>
<circle cx="198.6" cy="367.4" r="2.9"/>
<circle cx="202.6" cy="369.3" r="2.9"/>
<circle cx="210.5" cy="367.4" r="2.9"/>
<circle cx="215.7" cy="370.4" r="2.9"/>
<circle cx="220.9" cy="368.2" r="2.9"/>
<circle cx="170.2" cy="372.9" r="2.9"/>
<circle cx="174.2" cy="372.1" r="2.9"/>
<circle cx="180.5" cy="373.7" r="2.9"/>
<circle cx="185.2" cy="371.3" r="2.9"/>
<circle cx="190.7" cy="372.9" r="2.9"/>
<circle cx="194.7" cy="374.5" r="2.9"/>
<circle cx="200.2" cy="374.5" r="2.9"/>
<circle cx="207.1" cy="375.3" r="2.9"/>
<circle cx="213.0" cy="375.4" r="2.9"/>
<circle cx="219.7" cy="374.9" r="2.9"/>
<circle cx="225.7" cy="353.5" r="2.9"/>
<circle cx="234.4" cy="353.5" r="2.9"/>
<circle cx="238.8" cy="350.8" r="2.9"/>
<circle cx="242.3" cy="353.5" r="2.9"/>
<circle cx="223.4" cy="357.9" r="2.9"/>
<circle cx="229.7" cy="359.5" r="2.9"/>
<circle cx="238.4" cy="359.2" r="2.9"/>
<circle cx="247.8" cy="357.9" r="2.9"/>
<circle cx="251.0" cy="360.3" r="2.9"/>
<circle cx="258.1" cy="359.2" r="2.9"/>
<circle cx="261.3" cy="361.4" r="2.9"/>
<circle cx="226.5" cy="363.4" r="2.9"/>
<circle cx="232.1" cy="365.0" r="2.9"/>
<circle cx="236.8" cy="365.0" r="2.9"/>
<circle cx="246.3" cy="363.4" r="2.9"/>
<circle cx="252.6" cy="364.5" r="2.9"/>
<circle cx="255.7" cy="365.0" r="2.9"/>
<circle cx="262.1" cy="366.6" r="2.9"/>
<circle cx="209.2" cy="371.3" r="2.9"/>
<circle cx="225.7" cy="372.1" r="2.9"/>
<circle cx="234.4" cy="368.9" r="2.9"/>
<circle cx="240.7" cy="367.4" r="2.9"/>
<circle cx="245.5" cy="370.2" r="2.9"/>
<circle cx="251.8" cy="368.9" r="2.9"/>
<circle cx="258.1" cy="371.3" r="2.9"/>
<circle cx="228.1" cy="374.5" r="2.9"/>
<circle cx="237.6" cy="373.7" r="2.9"/>
<circle cx="243.9" cy="374.9" r="2.9"/>
<circle cx="249.4" cy="374.5" r="2.9"/>
<circle cx="254.9" cy="375.3" r="2.9"/>
</g>
<rect x="45.3" y="217.2" width="217.0" height="166.4" fill="none" stroke="#4a4a4a" stroke-width="1"/>
<path d="M45.3 383.6v2.5M57.4 383.6v1.5M69.4 383.6v2.5M81.5 383.6v1.5M93.5 383.6v2.5M105.6 383.6v1.5M117.6 383.6v2.5M129.7 383.6v1.5M141.7 383.6v2.5M153.8 383.6v1.5M165.9 383.6v2.5M177.9 383.6v1.5M190.0 383.6v2.5M202.0 383.6v1.5M214.1 383.6v2.5M226.1 383.6v1.5M238.2 383.6v2.5M250.2 383.6v1.5M262.3 383.6v2.5M45.3 383.5h-1.5M45.3 375.6h-2.5M45.3 367.7h-1.5M45.3 359.8h-2.5M45.3 351.8h-1.5M45.3 343.9h-2.5M45.3 336.0h-1.5M45.3 328.1h-2.5M45.3 320.2h-1.5M45.3 312.2h-2.5M45.3 304.3h-1.5M45.3 296.4h-2.5M45.3 288.5h-1.5M45.3 280.6h-2.5M45.3 272.6h-1.5M45.3 264.7h-2.5M45.3 256.8h-1.5M45.3 248.9h-2.5M45.3 241.0h-1.5M45.3 233.0h-2.5M45.3 225.1h-1.5M45.3 217.2h-2.5" stroke="#4a4a4a" stroke-width="1" fill="none"/>
<g font-family="Liberation Serif" font-size="11.8" fill="#111" text-anchor="middle">
<text x="45.3" y="396.9">0</text>
<text x="69.4" y="396.9">30</text>
<text x="93.5" y="396.9">60</text>
<text x="117.6" y="396.9">90</text>
<text x="141.7" y="396.9">120</text>
<text x="165.9" y="396.9">150</text>
<text x="190.0" y="396.9">180</text>
<text x="214.1" y="396.9">210</text>
<text x="238.2" y="396.9">240</text>
<text x="262.3" y="396.9">270</text>
</g><g font-family="Liberation Serif" font-size="11.8" fill="#111" text-anchor="end">
<text x="41.5" y="379.2">0</text>
<text x="41.5" y="363.4">10</text>
<text x="41.5" y="347.5">20</text>
<text x="41.5" y="331.7">30</text>
<text x="41.5" y="315.8">40</text>
<text x="41.5" y="300.0">50</text>
<text x="41.5" y="284.2">60</text>
<text x="41.5" y="268.3">70</text>
<text x="41.5" y="252.5">80</text>
<text x="41.5" y="236.6">90</text>
<text x="41.5" y="220.8">100</text>
</g>
<text x="157.3" y="410.9" font-family="Liberation Serif" font-size="14.1" fill="#111" text-anchor="middle">Samples</text>
<text transform="translate(17.0 301.1) rotate(-90)" x="0" y="0" font-family="Liberation Serif" font-size="14.1" fill="#111" text-anchor="middle">Error (MPa)</text>
<rect x="51.0" y="221.6" width="49.7" height="16.2" fill="#fff" stroke="#888" stroke-width="1"/>
<circle cx="60.2" cy="230.1" r="3.2" fill="#ff1515" stroke="#703878" stroke-width="0.9"/>
<text x="69.5" y="233.6" font-family="Liberation Serif" font-size="12.5" fill="#111">Error</text>
<g stroke="#ff2a2a" stroke-width="1" fill="none">
<rect x="202.0" y="267.5" width="29.2" height="13.0"/>
<path d="M202.0 274.4H231.2M217.0 251.2V267.5M217.0 280.5V283.7M209.5 251.2H224.3M209.5 283.7H224.3"/>
<polygon points="217.00,280.70 217.82,282.37 219.66,282.63 218.33,283.93 218.65,285.77 217.00,284.90 215.35,285.77 215.67,283.93 214.34,282.63 216.18,282.37" fill="#ff2a2a" stroke="none"/>
</g>
<rect x="215.2" y="268.5" width="3.6" height="3.6" fill="#000" stroke="#ff2a2a" stroke-width="0.5"/>
<text x="233.3" y="272.7" font-family="Liberation Serif" font-size="12" fill="#111" textLength="18.9" lengthAdjust="spacingAndGlyphs">8.47</text>
<text x="237.5" y="235.1" font-family="Liberation Serif" font-size="16.5" fill="#111">(c)</text>
<g fill="#857e78" stroke="#2f68c0" stroke-width="0.9">
<circle cx="421.2" cy="261.4" r="3.0"/>
<circle cx="335.3" cy="290.7" r="3.0"/>
<circle cx="412.9" cy="295.5" r="3.0"/>
<circle cx="535.8" cy="256.0" r="3.0"/>
<circle cx="477.3" cy="279.7" r="3.0"/>
<circle cx="481.9" cy="288.0" r="3.0"/>
<circle cx="498.6" cy="288.0" r="3.0"/>
<circle cx="484.2" cy="302.0" r="3.0"/>
<circle cx="518.0" cy="298.5" r="3.0"/>
<circle cx="512.8" cy="307.7" r="3.0"/>
<circle cx="430.6" cy="316.7" r="3.0"/>
<circle cx="426.3" cy="331.5" r="3.0"/>
<circle cx="436.8" cy="331.8" r="3.0"/>
<circle cx="438.9" cy="336.6" r="3.0"/>
<circle cx="446.2" cy="332.0" r="3.0"/>
<circle cx="450.0" cy="331.5" r="3.0"/>
<circle cx="454.1" cy="331.5" r="3.0"/>
<circle cx="472.4" cy="327.3" r="3.0"/>
<circle cx="469.6" cy="336.5" r="3.0"/>
<circle cx="506.6" cy="334.8" r="3.0"/>
<circle cx="513.6" cy="334.1" r="3.0"/>
<circle cx="514.9" cy="337.0" r="3.0"/>
<circle cx="521.7" cy="334.6" r="3.0"/>
<circle cx="420.6" cy="307.8" r="3.0"/>
<circle cx="322.3" cy="312.0" r="3.0"/>
<circle cx="345.9" cy="313.0" r="3.0"/>
<circle cx="398.6" cy="321.8" r="3.0"/>
<circle cx="406.7" cy="324.8" r="3.0"/>
<circle cx="342.0" cy="334.5" r="3.0"/>
<circle cx="348.9" cy="336.9" r="3.0"/>
<circle cx="359.5" cy="334.5" r="3.0"/>
<circle cx="363.6" cy="334.5" r="3.0"/>
<circle cx="388.1" cy="332.2" r="3.0"/>
<circle cx="399.9" cy="336.4" r="3.0"/>
<circle cx="417.1" cy="333.8" r="3.0"/>
<circle cx="424.2" cy="336.2" r="3.0"/>
<circle cx="333.9" cy="339.5" r="3.0"/>
<circle cx="337.9" cy="343.2" r="3.0"/>
<circle cx="366.8" cy="341.6" r="3.0"/>
<circle cx="352.9" cy="344.7" r="3.0"/>
<circle cx="373.8" cy="344.3" r="3.0"/>
<circle cx="320.5" cy="351.1" r="3.0"/>
<circle cx="323.7" cy="349.0" r="3.0"/>
<circle cx="326.8" cy="348.4" r="3.0"/>
<circle cx="332.4" cy="350.3" r="3.0"/>
<circle cx="339.5" cy="348.7" r="3.0"/>
<circle cx="341.1" cy="351.8" r="3.0"/>
<circle cx="344.2" cy="354.2" r="3.0"/>
<circle cx="348.2" cy="354.2" r="3.0"/>
<circle cx="352.6" cy="353.4" r="3.0"/>
<circle cx="359.2" cy="348.7" r="3.0"/>
<circle cx="361.6" cy="351.1" r="3.0"/>
<circle cx="365.5" cy="352.6" r="3.0"/>
<circle cx="370.3" cy="351.1" r="3.0"/>
<circle cx="375.6" cy="347.9" r="3.0"/>
<circle cx="379.1" cy="347.9" r="3.0"/>
<circle cx="329.2" cy="354.7" r="3.0"/>
<circle cx="334.7" cy="354.2" r="3.0"/>
<circle cx="337.1" cy="358.9" r="3.0"/>
<circle cx="330.8" cy="357.4" r="3.0"/>
<circle cx="354.2" cy="357.4" r="3.0"/>
<circle cx="356.8" cy="359.7" r="3.0"/>
<circle cx="362.4" cy="355.8" r="3.0"/>
<circle cx="367.1" cy="358.2" r="3.0"/>
<circle cx="371.8" cy="356.6" r="3.0"/>
<circle cx="376.8" cy="357.8" r="3.0"/>
<circle cx="322.9" cy="362.9" r="3.0"/>
<circle cx="327.6" cy="360.5" r="3.0"/>
<circle cx="348.2" cy="362.6" r="3.0"/>
<circle cx="357.6" cy="362.9" r="3.0"/>
<circle cx="362.4" cy="361.3" r="3.0"/>
<circle cx="367.1" cy="362.9" r="3.0"/>
<circle cx="371.8" cy="362.9" r="3.0"/>
<circle cx="378.7" cy="362.1" r="3.0"/>
<circle cx="323.7" cy="369.2" r="3.0"/>
<circle cx="326.1" cy="366.1" r="3.0"/>
<circle cx="330.0" cy="367.6" r="3.0"/>
<circle cx="338.7" cy="367.3" r="3.0"/>
<circle cx="342.6" cy="367.6" r="3.0"/>
<circle cx="347.4" cy="368.4" r="3.0"/>
<circle cx="351.3" cy="367.3" r="3.0"/>
<circle cx="356.8" cy="369.2" r="3.0"/>
<circle cx="362.4" cy="370.0" r="3.0"/>
<circle cx="367.1" cy="368.4" r="3.0"/>
<circle cx="373.6" cy="367.6" r="3.0"/>
<circle cx="321.3" cy="371.6" r="3.0"/>
<circle cx="330.0" cy="370.8" r="3.0"/>
<circle cx="337.9" cy="370.8" r="3.0"/>
<circle cx="343.4" cy="370.8" r="3.0"/>
<circle cx="351.3" cy="371.6" r="3.0"/>
<circle cx="360.8" cy="370.8" r="3.0"/>
<circle cx="368.7" cy="371.6" r="3.0"/>
<circle cx="379.5" cy="370.8" r="3.0"/>
<circle cx="411.7" cy="340.0" r="3.0"/>
<circle cx="402.2" cy="342.7" r="3.0"/>
<circle cx="383.3" cy="348.4" r="3.0"/>
<circle cx="386.9" cy="343.2" r="3.0"/>
<circle cx="391.9" cy="342.7" r="3.0"/>
<circle cx="390.4" cy="347.1" r="3.0"/>
<circle cx="404.6" cy="351.1" r="3.0"/>
<circle cx="418.8" cy="350.3" r="3.0"/>
<circle cx="425.1" cy="352.6" r="3.0"/>
<circle cx="420.4" cy="354.2" r="3.0"/>
<circle cx="373.0" cy="353.4" r="3.0"/>
<circle cx="382.5" cy="356.6" r="3.0"/>
<circle cx="388.8" cy="353.7" r="3.0"/>
<circle cx="395.9" cy="353.7" r="3.0"/>
<circle cx="393.5" cy="357.4" r="3.0"/>
<circle cx="397.5" cy="358.2" r="3.0"/>
<circle cx="407.7" cy="357.4" r="3.0"/>
<circle cx="384.8" cy="358.2" r="3.0"/>
<circle cx="374.6" cy="362.9" r="3.0"/>
<circle cx="391.9" cy="362.9" r="3.0"/>
<circle cx="400.6" cy="360.5" r="3.0"/>
<circle cx="404.6" cy="364.5" r="3.0"/>
<circle cx="410.1" cy="362.9" r="3.0"/>
<circle cx="416.4" cy="362.9" r="3.0"/>
<circle cx="421.9" cy="363.7" r="3.0"/>
<circle cx="428.3" cy="358.2" r="3.0"/>
<circle cx="431.6" cy="358.6" r="3.0"/>
<circle cx="434.4" cy="362.1" r="3.0"/>
<circle cx="429.1" cy="364.5" r="3.0"/>
<circle cx="433.8" cy="363.7" r="3.0"/>
<circle cx="384.1" cy="372.4" r="3.0"/>
<circle cx="399.1" cy="366.8" r="3.0"/>
<circle cx="402.2" cy="370.0" r="3.0"/>
<circle cx="409.3" cy="368.4" r="3.0"/>
<circle cx="416.4" cy="370.8" r="3.0"/>
<circle cx="414.1" cy="366.1" r="3.0"/>
<circle cx="429.8" cy="371.6" r="3.0"/>
<circle cx="434.4" cy="371.6" r="3.0"/>
<circle cx="437.7" cy="370.0" r="3.0"/>
<circle cx="395.1" cy="365.3" r="3.0"/>
<circle cx="464.9" cy="341.6" r="3.0"/>
<circle cx="463.4" cy="343.9" r="3.0"/>
<circle cx="495.1" cy="347.9" r="3.0"/>
<circle cx="442.8" cy="351.8" r="3.0"/>
<circle cx="450.7" cy="348.7" r="3.0"/>
<circle cx="451.5" cy="352.6" r="3.0"/>
<circle cx="456.3" cy="353.7" r="3.0"/>
<circle cx="461.0" cy="351.8" r="3.0"/>
<circle cx="462.6" cy="350.3" r="3.0"/>
<circle cx="466.5" cy="355.3" r="3.0"/>
<circle cx="475.2" cy="351.8" r="3.0"/>
<circle cx="480.9" cy="350.4" r="3.0"/>
<circle cx="477.6" cy="352.6" r="3.0"/>
<circle cx="436.5" cy="355.8" r="3.0"/>
<circle cx="441.3" cy="355.0" r="3.0"/>
<circle cx="447.6" cy="355.8" r="3.0"/>
<circle cx="487.2" cy="356.6" r="3.0"/>
<circle cx="490.7" cy="359.3" r="3.0"/>
<circle cx="493.9" cy="354.6" r="3.0"/>
<circle cx="438.1" cy="364.5" r="3.0"/>
<circle cx="443.6" cy="363.7" r="3.0"/>
<circle cx="446.8" cy="365.7" r="3.0"/>
<circle cx="452.3" cy="364.5" r="3.0"/>
<circle cx="460.2" cy="362.1" r="3.0"/>
<circle cx="464.9" cy="360.5" r="3.0"/>
<circle cx="471.3" cy="362.1" r="3.0"/>
<circle cx="476.0" cy="360.5" r="3.0"/>
<circle cx="480.5" cy="360.5" r="3.0"/>
<circle cx="482.3" cy="364.5" r="3.0"/>
<circle cx="487.8" cy="362.9" r="3.0"/>
<circle cx="493.4" cy="362.1" r="3.0"/>
<circle cx="431.0" cy="366.8" r="3.0"/>
<circle cx="439.7" cy="367.3" r="3.0"/>
<circle cx="454.7" cy="366.4" r="3.0"/>
<circle cx="458.6" cy="368.4" r="3.0"/>
<circle cx="464.2" cy="365.3" r="3.0"/>
<circle cx="468.1" cy="366.8" r="3.0"/>
<circle cx="473.6" cy="366.1" r="3.0"/>
<circle cx="478.4" cy="365.3" r="3.0"/>
<circle cx="484.8" cy="365.7" r="3.0"/>
<circle cx="491.0" cy="366.8" r="3.0"/>
<circle cx="439.7" cy="372.4" r="3.0"/>
<circle cx="445.2" cy="370.8" r="3.0"/>
<circle cx="448.4" cy="373.2" r="3.0"/>
<circle cx="452.3" cy="370.0" r="3.0"/>
<circle cx="457.1" cy="370.8" r="3.0"/>
<circle cx="468.1" cy="370.8" r="3.0"/>
<circle cx="472.8" cy="372.4" r="3.0"/>
<circle cx="478.4" cy="370.8" r="3.0"/>
<circle cx="484.8" cy="370.4" r="3.0"/>
<circle cx="491.9" cy="370.4" r="3.0"/>
<circle cx="495.7" cy="369.2" r="3.0"/>
<circle cx="525.2" cy="342.4" r="3.0"/>
<circle cx="505.0" cy="344.7" r="3.0"/>
<circle cx="534.4" cy="344.7" r="3.0"/>
<circle cx="503.4" cy="350.6" r="3.0"/>
<circle cx="511.3" cy="350.3" r="3.0"/>
<circle cx="522.8" cy="347.9" r="3.0"/>
<circle cx="528.4" cy="349.5" r="3.0"/>
<circle cx="535.5" cy="351.8" r="3.0"/>
<circle cx="496.8" cy="355.8" r="3.0"/>
<circle cx="500.7" cy="356.6" r="3.0"/>
<circle cx="504.7" cy="358.2" r="3.0"/>
<circle cx="511.8" cy="355.3" r="3.0"/>
<circle cx="516.5" cy="358.2" r="3.0"/>
<circle cx="520.5" cy="353.4" r="3.0"/>
<circle cx="526.0" cy="354.2" r="3.0"/>
<circle cx="529.9" cy="355.8" r="3.0"/>
<circle cx="532.3" cy="360.5" r="3.0"/>
<circle cx="537.1" cy="358.2" r="3.0"/>
<circle cx="496.0" cy="362.9" r="3.0"/>
<circle cx="499.9" cy="362.1" r="3.0"/>
<circle cx="509.4" cy="362.1" r="3.0"/>
<circle cx="515.7" cy="362.9" r="3.0"/>
<circle cx="522.8" cy="358.9" r="3.0"/>
<circle cx="526.0" cy="362.9" r="3.0"/>
<circle cx="533.1" cy="356.6" r="3.0"/>
<circle cx="482.6" cy="367.6" r="3.0"/>
<circle cx="488.1" cy="369.2" r="3.0"/>
<circle cx="497.6" cy="364.5" r="3.0"/>
<circle cx="501.5" cy="368.4" r="3.0"/>
<circle cx="507.8" cy="366.8" r="3.0"/>
<circle cx="518.9" cy="370.8" r="3.0"/>
<circle cx="526.8" cy="367.6" r="3.0"/>
<circle cx="532.3" cy="369.5" r="3.0"/>
<circle cx="529.2" cy="366.1" r="3.0"/>
<circle cx="518.9" cy="360.5" r="3.0"/>
</g>
<rect x="320.3" y="216.7" width="216.7" height="166.8" fill="none" stroke="#4a4a4a" stroke-width="1"/>
<path d="M320.3 383.5v2.5M332.3 383.5v1.5M344.4 383.5v2.5M356.4 383.5v1.5M368.5 383.5v2.5M380.5 383.5v1.5M392.5 383.5v2.5M404.6 383.5v1.5M416.6 383.5v2.5M428.6 383.5v1.5M440.7 383.5v2.5M452.7 383.5v1.5M464.8 383.5v2.5M476.8 383.5v1.5M488.8 383.5v2.5M500.9 383.5v1.5M512.9 383.5v2.5M525.0 383.5v1.5M537.0 383.5v2.5M320.3 383.6h-1.5M320.3 373.8h-2.5M320.3 364.0h-1.5M320.3 354.2h-2.5M320.3 344.3h-1.5M320.3 334.5h-2.5M320.3 324.7h-1.5M320.3 314.9h-2.5M320.3 305.1h-1.5M320.3 295.2h-2.5M320.3 285.4h-1.5M320.3 275.6h-2.5M320.3 265.8h-1.5M320.3 256.0h-2.5M320.3 246.2h-1.5M320.3 236.3h-2.5M320.3 226.5h-1.5M320.3 216.7h-2.5" stroke="#4a4a4a" stroke-width="1" fill="none"/>
<g font-family="Liberation Serif" font-size="11.8" fill="#111" text-anchor="middle">
<text x="320.3" y="397.0">0</text>
<text x="344.4" y="397.0">30</text>
<text x="368.5" y="397.0">60</text>
<text x="392.5" y="397.0">90</text>
<text x="416.6" y="397.0">120</text>
<text x="440.7" y="397.0">150</text>
<text x="464.8" y="397.0">180</text>
<text x="488.8" y="397.0">210</text>
<text x="512.9" y="397.0">240</text>
<text x="537.0" y="397.0">270</text>
</g><g font-family="Liberation Serif" font-size="11.8" fill="#111" text-anchor="end">
<text x="316.5" y="377.4">0</text>
<text x="316.5" y="357.8">10</text>
<text x="316.5" y="338.1">20</text>
<text x="316.5" y="318.5">30</text>
<text x="316.5" y="298.9">40</text>
<text x="316.5" y="279.2">50</text>
<text x="316.5" y="259.6">60</text>
<text x="316.5" y="239.9">70</text>
<text x="316.5" y="220.3">80</text>
</g>
<text x="432.1" y="411.0" font-family="Liberation Serif" font-size="14.1" fill="#111" text-anchor="middle">Samples</text>
<text transform="translate(291.1 298.1) rotate(-90)" x="0" y="0" font-family="Liberation Serif" font-size="14.1" fill="#111" text-anchor="middle">Error (MPa)</text>
<rect x="326.5" y="221.5" width="49.7" height="16.2" fill="#fff" stroke="#888" stroke-width="1"/>
<circle cx="335.7" cy="230.0" r="3.2" fill="#857e78" stroke="#2f68c0" stroke-width="0.9"/>
<text x="345.0" y="233.5" font-family="Liberation Serif" font-size="12.5" fill="#111">Error</text>
<g stroke="#ff2a2a" stroke-width="1" fill="none">
<rect x="461.1" y="239.5" width="28.4" height="14.6"/>
<path d="M461.1 247.2H489.5M475.1 219.7V239.5M475.1 254.1V261.0M467.5 219.7H482.2M467.5 261.0H482.2"/>
<polygon points="475.10,258.00 475.92,259.67 477.76,259.93 476.43,261.23 476.75,263.07 475.10,262.20 473.45,263.07 473.77,261.23 472.44,259.93 474.28,259.67" fill="#ff2a2a" stroke="none"/>
</g>
<rect x="473.3" y="241.1" width="3.6" height="3.6" fill="#000" stroke="#ff2a2a" stroke-width="0.5"/>
<text x="494.9" y="246.8" font-family="Liberation Serif" font-size="12" fill="#111" textLength="19.3" lengthAdjust="spacingAndGlyphs">9.50</text>
<text x="512.7" y="233.1" font-family="Liberation Serif" font-size="16.5" fill="#111">(d)</text>
</svg></body></html>
